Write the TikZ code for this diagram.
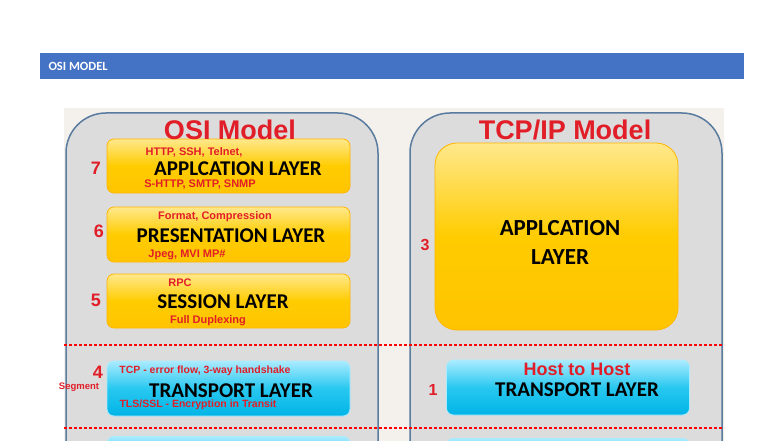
\documentclass[tikz,border=0pt]{standalone}
\usepackage{fontspec}
\setmainfont{Liberation Sans}
\newfontfamily\carl{Carlito}
\definecolor{hdrblue}{RGB}{68,114,196}
\definecolor{bgbeige}{RGB}{244,240,235}
\definecolor{pbord}{RGB}{90,123,160}
\definecolor{pfill}{RGB}{220,220,220}
\definecolor{ytop}{RGB}{255,232,140}
\definecolor{ymid}{RGB}{255,204,0}
\definecolor{ybot}{RGB}{255,196,0}
\definecolor{ctop}{RGB}{170,235,255}
\definecolor{cmid}{RGB}{40,200,240}
\definecolor{cbot}{RGB}{0,180,230}
\definecolor{tred}{RGB}{225,30,40}
\begin{document}
\begin{tikzpicture}[x=1pt,y=-1pt,
 panel/.style={draw=pbord,line width=1.5pt,fill=pfill,rounded corners=40pt},
 ybox/.style={draw=ybot!80!orange,line width=0.8pt,rounded corners=7pt,top color=ytop,bottom color=ybot,middle color=ymid,minimum width=243pt,inner sep=0pt},
 cbox/.style={draw=ctop,line width=0.8pt,rounded corners=7pt,top color=ctop,bottom color=cbot,middle color=cmid,minimum width=243pt,inner sep=0pt},
 lname/.style={font=\carl\bfseries\fontsize{21}{22}\selectfont,text=black},
 sub/.style={font=\bfseries\fontsize{11}{12}\selectfont,text=tred},
 num/.style={font=\bfseries\fontsize{18}{19}\selectfont,text=tred},
 ttl/.style={font=\bfseries\fontsize{27}{28}\selectfont,text=tred},
 sep/.style={red,line width=1.2pt,densely dashed}]
\useasboundingbox (0,0) rectangle (784,441);
\fill[white] (0,0) rectangle (784,441);
\fill[hdrblue] (40,53) rectangle (744,79);
\node[anchor=west,text=white,font=\carl\bfseries\fontsize{12.5}{13}\selectfont] (hdr) at (45,66) {OSI MODEL};
\begin{scope}
\clip (0,0) rectangle (784,441);
\fill[bgbeige] (64,108) rectangle (724,450);
\draw[panel] (66,480) -- (66,113) -- (378,113) -- (378,480);
\draw[panel] (410,480) -- (410,113) -- (722,113) -- (722,480);
% left boxes
\node[ybox,minimum height=54pt] (app) at (228.5,166) {};
\node[lname] at (238,169) {APPLCATION LAYER};
\node[sub] at (194,152) {HTTP, SSH, Telnet,};
\node[sub] at (200,185) {S-HTTP, SMTP, SNMP};
\node[ybox,minimum height=55pt] (pres) at (228.5,234.5) {};
\node[lname] at (231,236) {PRESENTATION LAYER};
\node[sub] at (215,217) {Format, Compression};
\node[sub] at (187,255) {Jpeg, MVI MP\#};
\node[ybox,minimum height=54pt] (sess) at (228.5,301) {};
\node[lname] at (223,302) {SESSION LAYER};
\node[sub] at (180,283) {RPC};
\node[sub] at (208,321) {Full Duplexing};
\node[cbox,minimum height=55pt] (trans) at (228.5,388.5) {};
\node[lname] at (231,391) {TRANSPORT LAYER};
\node[sub,font=\bfseries\fontsize{10.5}{11}\selectfont] at (205,371) {TCP - error flow, 3-way handshake};
\node[sub,font=\bfseries\fontsize{10.5}{11}\selectfont] at (198,405) {TLS/SSL - Encryption in Transit};
\node[cbox,minimum height=40pt,anchor=north] (net) at (228.5,436) {};
\node[num] (n7) at (96,168) {7};
\node[num] (n6) at (99,231) {6};
\node[num] (n5) at (96,300) {5};
\node[num] (n4) at (98,372) {4};
\node[sub,font=\bfseries\fontsize{9.5}{10}\selectfont] (seg) at (79,387) {Segment};
% right boxes
\node[ybox,minimum width=243pt,minimum height=187pt,rounded corners=22pt] (app2) at (556.5,236.5) {};
\node[lname,align=center,font=\carl\bfseries\fontsize{23}{29}\selectfont] at (560,242) {APPLCATION\\LAYER};
\node[cbox,minimum height=55pt] (trans2) at (568,387.5) {};
\node[font=\bfseries\fontsize{18}{19}\selectfont,text=tred] at (577,369) {Host to Host};
\node[lname] at (577,390) {TRANSPORT LAYER};
\node[cbox,minimum height=40pt,anchor=north] (net2) at (568,438) {};
\node[num,font=\bfseries\fontsize{16}{17}\selectfont] (n3) at (425,245) {3};
\node[num,font=\bfseries\fontsize{16}{17}\selectfont] (n1) at (433,390) {1};
\node[ttl] (t1) at (230,130) {OSI Model};
\node[ttl] (t2) at (565,130) {TCP/IP Model};
\coordinate (l1a) at (64,345); \coordinate (l1b) at (724,345);
\coordinate (l2a) at (64,428); \coordinate (l2b) at (724,428);
\draw[sep] (l1a) -- (l1b);
\draw[sep] (l2a) -- (l2b);
\end{scope}
\end{tikzpicture}
\end{document}
